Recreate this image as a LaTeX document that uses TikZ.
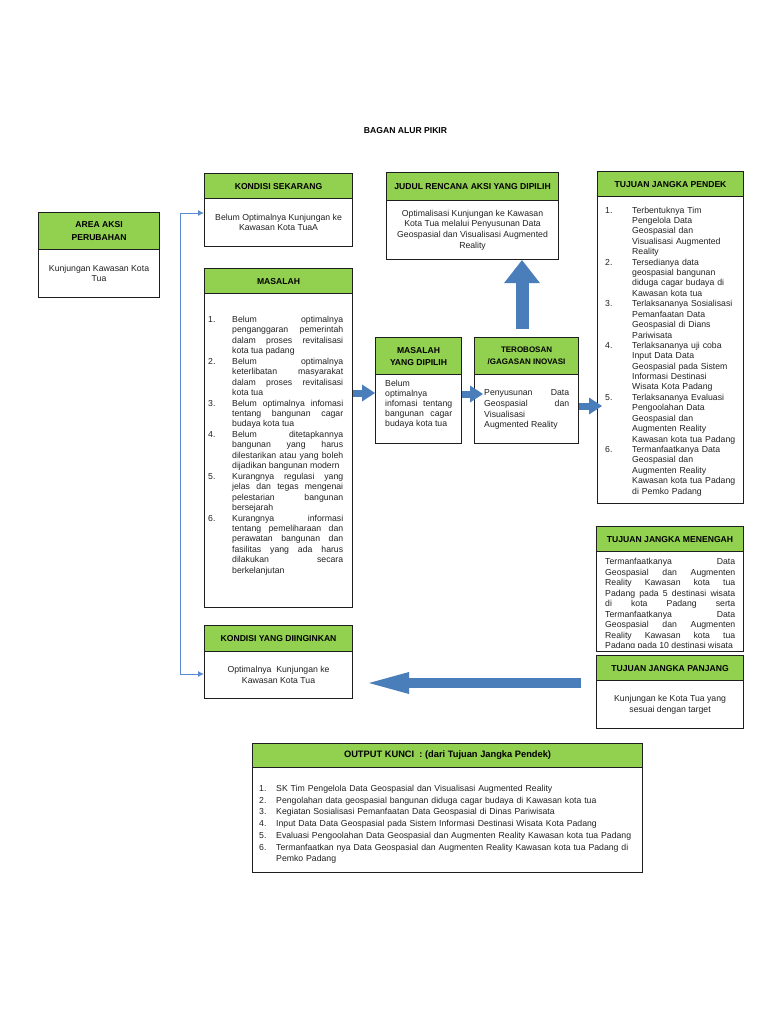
\documentclass[tikz,border=0pt]{standalone}
\usepackage{fontspec}
\setmainfont{Liberation Sans}
\usetikzlibrary{arrows.meta,calc}
\definecolor{hdrgreen}{HTML}{92D050}
\definecolor{arrowblue}{HTML}{4A7EBB}
\definecolor{linkblue}{HTML}{5A8AD0}
\definecolor{boxline}{HTML}{1E1E1E}
\definecolor{txt}{HTML}{222222}
\newlength\numw
\newcommand\bodyfs{\fontsize{8.7}{10.45}\selectfont}
\newcommand\outfs{\fontsize{8.7}{11.7}\selectfont}
\newcommand\hdrfs{\fontsize{8.6}{12.5}\selectfont\bfseries}
\newcommand\litem[2]{\par\noindent\hangindent=\numw\hangafter=1\makebox[\numw][l]{#1}#2\par}
\newcommand\listsetup{\tolerance=10000\hbadness=10000\hyphenpenalty=10000\exhyphenpenalty=10000\parindent=0pt}
\begin{document}
\begin{tikzpicture}[x=1pt,y=-1pt,
  hdr/.style={draw=boxline, line width=1.1pt, fill=hdrgreen, inner sep=0pt, anchor=north west, align=center, font=\hdrfs, text=black},
  bdy/.style={draw=boxline, line width=1.1pt, fill=white, inner sep=0pt, anchor=north west, align=center, font=\bodyfs, text=txt},
  listtxt/.style={inner sep=0pt, anchor=north west, font=\bodyfs, text=txt},
  link/.style={draw=linkblue, line width=0.9pt, {Latex[length=6pt 0 1,width=6pt 0 1]}-{Latex[length=6pt 0 1,width=6pt 0 1]}},
  bigarrow/.style={draw=arrowblue, line width=10pt, -{Triangle[length=40pt 0 1,width=22pt 0 1,line width=0pt 0 1]}},
  uparrow/.style={draw=arrowblue, line width=13pt, -{Triangle[length=23pt 0 1,width=36pt 0 1,line width=0pt 0 1]}},
  smallarrow/.style={draw=arrowblue, line width=7pt, -{Triangle[length=13pt 0 1,width=17pt 0 1,line width=0pt 0 1]}}
]
\useasboundingbox[fill=white] (0,0) rectangle (768,1024);

\node[font=\hdrfs, inner sep=0pt] (title) at (405.5,131) {BAGAN ALUR PIKIR};

% AREA AKSI PERUBAHAN
\node[bdy, minimum width=121pt, minimum height=48pt] (areab) at (38,249) {Kunjungan Kawasan Kota\\Tua};
\node[hdr, minimum width=121pt, minimum height=37pt] (areah) at (38,212) {AREA AKSI\\PERUBAHAN};

% KONDISI SEKARANG
\node[bdy, minimum width=148pt, minimum height=48pt] (ksb) at (204,198) {Belum Optimalnya Kunjungan ke\\Kawasan Kota TuaA};
\node[hdr, minimum width=148pt, minimum height=25pt] (ksh) at (204,173) {KONDISI SEKARANG};

% MASALAH
\node[bdy, minimum width=148pt, minimum height=314pt] (masb) at (204,293) {};
\node[hdr, minimum width=148pt, minimum height=25pt] (mash) at (204,268) {MASALAH};
\node[listtxt, text width=135pt, align=justify] (mast) at (208,311.8) {\listsetup\setlength\numw{24pt}%
\litem{1.}{Belum optimalnya\linebreak penganggaran pemerintah\linebreak dalam proses revitalisasi\linebreak kota tua padang}%
\litem{2.}{Belum optimalnya\linebreak keterlibatan masyarakat\linebreak dalam proses revitalisasi\linebreak kota tua}%
\litem{3.}{Belum optimalnya infomasi\linebreak tentang bangunan cagar\linebreak budaya kota tua}%
\litem{4.}{Belum ditetapkannya\linebreak bangunan yang harus\linebreak dilestarikan atau yang boleh\linebreak dijadikan bangunan modern}%
\litem{5.}{Kurangnya regulasi yang\linebreak jelas dan tegas mengenai\linebreak pelestarian bangunan\linebreak bersejarah}%
\litem{6.}{Kurangnya informasi\linebreak tentang pemeliharaan dan\linebreak perawatan bangunan dan\linebreak fasilitas yang ada harus\linebreak dilakukan secara\linebreak berkelanjutan}};

% KONDISI YANG DIINGINKAN
\node[bdy, minimum width=148pt, minimum height=47pt] (kydb) at (204,651) {Optimalnya\ \ Kunjungan ke\\Kawasan Kota Tua};
\node[hdr, minimum width=148pt, minimum height=26pt] (kydh) at (204,625) {KONDISI YANG DIINGINKAN};

% JUDUL RENCANA AKSI
\node[bdy, minimum width=172pt, minimum height=59pt, font=\fontsize{8.7}{10.7}\selectfont] (judb) at (386,200) {Optimalisasi Kunjungan ke Kawasan\\Kota Tua melalui Penyusunan Data\\Geospasial dan Visualisasi Augmented\\Reality};
\node[hdr, minimum width=172pt, minimum height=28pt] (judh) at (386,172) {JUDUL RENCANA AKSI YANG DIPILIH};

% MASALAH YANG DIPILIH
\node[bdy, minimum width=86pt, minimum height=69pt] (mdpb) at (375,374) {};
\node[hdr, minimum width=86pt, minimum height=37pt, font=\fontsize{8.6}{12}\selectfont\bfseries] (mdph) at (375,337) {MASALAH\\YANG DIPILIH};
\node[listtxt, text width=67pt, align=justify, font=\fontsize{8.7}{10.2}\selectfont] (mdpt) at (385,379.6) {\listsetup Belum\linebreak optimalnya\linebreak infomasi tentang\linebreak bangunan cagar\linebreak budaya kota tua\par};

% TEROBOSAN
\node[bdy, minimum width=104pt, minimum height=69pt] (terob) at (474,374) {};
\node[hdr, minimum width=104pt, minimum height=37pt, font=\fontsize{8}{12}\selectfont\bfseries] (teroh) at (474,337) {TEROBOSAN\\/GAGASAN INOVASI};
\node[listtxt, text width=85pt, align=justify, font=\fontsize{8.7}{10.7}\selectfont] (terot) at (484,389.6) {\listsetup Penyusunan Data\linebreak Geospasial dan\linebreak Visualisasi\linebreak Augmented Reality\par};

% TUJUAN JANGKA PENDEK
\node[bdy, minimum width=146pt, minimum height=307pt] (pendb) at (597,196) {};
\node[hdr, minimum width=146pt, minimum height=25pt] (pendh) at (597,171) {TUJUAN JANGKA PENDEK};
\node[listtxt, text width=135pt, align=left, font=\fontsize{8.7}{10.4}\selectfont] (pendt) at (605,202.6) {\listsetup\setlength\numw{27pt}%
\litem{1.}{Terbentuknya Tim\newline Pengelola Data\newline Geospasial dan\newline Visualisasi Augmented\newline Reality}%
\litem{2.}{Tersedianya data\newline geospasial bangunan\newline diduga cagar budaya di\newline Kawasan kota tua}%
\litem{3.}{Terlaksananya Sosialisasi\newline Pemanfaatan Data\newline Geospasial di Dians\newline Pariwisata}%
\litem{4.}{Terlaksananya uji coba\newline Input Data Data\newline Geospasial pada Sistem\newline Informasi Destinasi\newline Wisata Kota Padang}%
\litem{5.}{Terlaksananya Evaluasi\newline Pengoolahan Data\newline Geospasial dan\newline Augmenten Reality\newline Kawasan kota tua Padang}%
\litem{6.}{Termanfaatkanya Data\newline Geospasial dan\newline Augmenten Reality\newline Kawasan kota tua Padang\newline di Pemko Padang}};

% TUJUAN JANGKA MENENGAH
\node[bdy, minimum width=147pt, minimum height=100pt] (menb) at (596,551) {};
\node[hdr, minimum width=147pt, minimum height=25pt] (menh) at (596,526) {TUJUAN JANGKA MENENGAH};
\coordinate (menclip) at (0,647);
\begin{scope}
\clip (menb.north west) rectangle (menb.east |- menclip);
\node[listtxt, text width=130pt, align=justify, font=\fontsize{8.7}{10.45}\selectfont] (ment) at (605,558.4) {\listsetup Termanfaatkanya Data\linebreak Geospasial dan Augmenten\linebreak Reality Kawasan kota tua\linebreak Padang pada 5 destinasi wisata\linebreak di kota Padang serta\linebreak Termanfaatkanya Data\linebreak Geospasial dan Augmenten\linebreak Reality Kawasan kota tua\linebreak Padang pada 10 destinasi wisata\par};
\end{scope}

% TUJUAN JANGKA PANJANG
\node[bdy, minimum width=147pt, minimum height=48pt] (panb) at (596,680) {Kunjungan ke Kota Tua yang\\sesuai dengan target};
\node[hdr, minimum width=147pt, minimum height=25pt] (panh) at (596,655) {TUJUAN JANGKA PANJANG};

% OUTPUT KUNCI
\node[bdy, minimum width=390pt, minimum height=105pt] (outb) at (252,767) {};
\node[hdr, minimum width=390pt, minimum height=24pt, font=\fontsize{9.3}{12}\selectfont\bfseries] (outh) at (252,743) {OUTPUT KUNCI\ \ : (dari Tujuan Jangka Pendek)};
\node[listtxt, text width=380pt, align=left, font=\outfs] (outt) at (259,779.6) {\listsetup\setlength\numw{17pt}%
\litem{1.}{SK Tim Pengelola Data Geospasial dan Visualisasi Augmented Reality}%
\litem{2.}{Pengolahan data geospasial bangunan diduga cagar budaya di Kawasan kota tua}%
\litem{3.}{Kegiatan Sosialisasi Pemanfaatan Data Geospasial di Dinas Pariwisata}%
\litem{4.}{Input Data Data Geospasial pada Sistem Informasi Destinasi Wisata Kota Padang}%
\litem{5.}{Evaluasi Pengoolahan Data Geospasial dan Augmenten Reality Kawasan kota tua Padang}%
\litem{6.}{Termanfaatkan nya Data Geospasial dan Augmenten Reality Kawasan kota tua Padang di\newline Pemko Padang}};

% connectors
\coordinate (brtop) at (180,213);
\coordinate (brbot) at (180,674);
\draw[link] (ksb.west |- brtop) -- (brtop) -- (brbot) -- (kydb.west |- brbot);

\coordinate (r1) at (0,393);
\coordinate (r2) at (0,394);
\coordinate (r3) at (0,406);
\draw[smallarrow] (masb.east |- r1) -- (mdpb.west |- r1);
\draw[smallarrow] (mdpb.east |- r2) -- ($(terob.west |- r2)+(9,0)$);
\draw[smallarrow] (terob.east |- r3) -- ($(pendb.west |- r3)+(5,0)$);

\coordinate (upS) at (522,329);
\draw[uparrow] (upS) -- (judb.south -| upS);

\coordinate (bgS) at (581,683);
\coordinate (bgE) at (369,683);
\draw[bigarrow] (bgS) -- (bgE);
\end{tikzpicture}
\end{document}
